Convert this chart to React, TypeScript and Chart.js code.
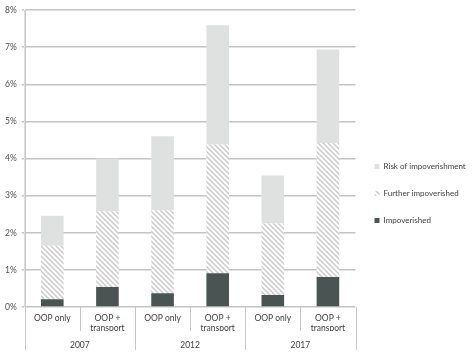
import React, { useEffect, useRef } from "react";
import { Chart, registerables } from "chart.js";

Chart.register(...registerables);

const categories: string[][] = [
  ["OOP only"],
  ["OOP +", "transport"],
  ["OOP only"],
  ["OOP +", "transport"],
  ["OOP only"],
  ["OOP +", "transport"],
];
const years = ["2007", "2012", "2017"];
const impoverished = [0.21, 0.54, 0.37, 0.91, 0.32, 0.81];
const furtherImpoverished = [1.44, 2.04, 2.24, 3.47, 1.93, 3.61];
const riskOfImpoverishment = [0.81, 1.42, 1.99, 3.21, 1.29, 2.52];
const yTicks = [0, 1, 2, 3, 4, 5, 6, 7, 8];

const FONT = "Lato, 'Open Sans', sans-serif";

function makeHatch(): CanvasPattern | string {
  const c = document.createElement("canvas");
  const s = 5;
  c.width = s;
  c.height = s;
  const ctx = c.getContext("2d");
  if (!ctx) return "#eeeeee";
  ctx.fillStyle = "#ffffff";
  ctx.fillRect(0, 0, s, s);
  ctx.strokeStyle = "#cbcbcb";
  ctx.lineWidth = 1.5;
  ctx.beginPath();
  ctx.moveTo(-1, -1);
  ctx.lineTo(s + 1, s + 1);
  ctx.moveTo(-1, s - 1);
  ctx.lineTo(1, s + 1);
  ctx.moveTo(s - 1, -1);
  ctx.lineTo(s + 1, 1);
  ctx.stroke();
  const p = ctx.createPattern(c, "repeat");
  return p || "#eeeeee";
}

const separatorPlugin = {
  id: "separators",
  afterDraw(chart: any) {
    const x = chart.scales.x;
    const x2 = chart.scales.x2;
    const ctx = chart.ctx;
    const n = categories.length;
    const w = x.width / n;
    ctx.save();
    ctx.strokeStyle = "#c8c8c8";
    ctx.lineWidth = 1;
    for (let i = 0; i <= n; i++) {
      const px = Math.round(x.left + i * w) + 0.5;
      const yearEdge = i % 2 === 0;
      const bottom = yearEdge ? x2.bottom - 3 : x.bottom;
      ctx.beginPath();
      ctx.moveTo(px, i === 0 ? chart.chartArea.top : chart.chartArea.bottom);
      ctx.lineTo(px, bottom);
      ctx.stroke();
    }
    ctx.restore();
  },
};

export default function App() {
  const ref = useRef<HTMLCanvasElement | null>(null);
  useEffect(() => {
    if (!ref.current) return;
    const hatch = makeHatch();
    const chart = new Chart(ref.current, {
      type: "bar",
      data: {
        labels: categories,
        datasets: [
          {
            label: "Impoverished",
            data: impoverished,
            backgroundColor: "#4a5452",
            stack: "s",
          },
          {
            label: "Further impoverished",
            data: furtherImpoverished,
            backgroundColor: hatch as any,
            stack: "s",
          },
          {
            label: "Risk of impoverishment",
            data: riskOfImpoverishment,
            backgroundColor: "#dfe1e1",
            stack: "s",
          },
        ],
      },
      options: {
        animation: false,
        responsive: true,
        maintainAspectRatio: false,
        layout: { padding: { top: 6, left: 0, right: 0, bottom: 2 } },
        datasets: { bar: { barPercentage: 0.41, categoryPercentage: 1 } },
        plugins: {
          tooltip: { enabled: false },
          legend: {
            position: "right",
            align: "start",
            reverse: true,
            title: { display: true, text: "", padding: { top: 128, bottom: 0 }, font: { size: 8 } },
            labels: {
              boxWidth: 5,
              boxHeight: 5,
              padding: 19,
              color: "#404040",
              font: { family: FONT, size: 8 },
            },
          },
        },
        scales: {
          x: {
            type: "category",
            stacked: true,
            grid: { display: false, drawTicks: false },
            border: { display: false },
            afterFit: (scale: any) => {
              scale.height = 24;
            },
            ticks: {
              color: "#404040",
              font: { family: FONT, size: 8.5, lineHeight: 1.2 },
              padding: 6,
              maxRotation: 0,
              autoSkip: false,
            },
          },
          x2: {
            type: "category",
            labels: years,
            position: "bottom",
            grid: { display: false, drawTicks: false },
            border: { display: false },
            afterFit: (scale: any) => {
              scale.height = 22;
            },
            ticks: {
              color: "#404040",
              font: { family: FONT, size: 8.5 },
              padding: 9,
            },
          },
          y: {
            stacked: true,
            min: 0,
            max: 8,
            afterBuildTicks: (scale: any) => {
              scale.ticks = yTicks.map((v) => ({ value: v }));
            },
            ticks: {
              color: "#505050",
              font: { family: FONT, size: 8.5 },
              padding: 5,
              callback: (v: any) => v + "%",
            },
            grid: { color: "#c4c4c4", lineWidth: 1.5, tickLength: 3 },
            border: { display: true, color: "#dddddd", width: 1 },
          },
        },
      },
      plugins: [separatorPlugin],
    });
    return () => chart.destroy();
  }, []);
  return (
    <div style={{ position: "absolute", left: 0, top: 0, width: 474, height: 355, background: "#fff" }}>
      <canvas ref={ref} />
    </div>
  );
}
